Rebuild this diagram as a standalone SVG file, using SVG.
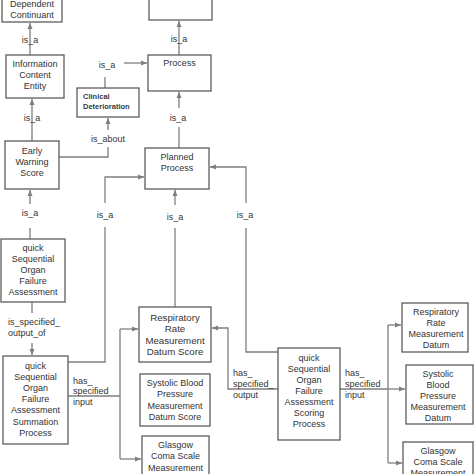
<svg xmlns="http://www.w3.org/2000/svg" width="474" height="474" viewBox="0 0 474 474">
<style>
.box{fill:#fff;stroke:#5c5c5c;stroke-width:1.3}
.t{font-family:"Liberation Sans",Arial,sans-serif;font-size:9px;fill:#333;text-anchor:middle}
.big{font-size:9.7px}
.cd{font-family:"Liberation Sans",Arial,sans-serif;font-size:7.5px;font-weight:bold;fill:#3a3a3a}
.lbl{font-family:"Liberation Sans",Arial,sans-serif;font-size:9px;fill:#333}
.c{text-anchor:middle}
.ln{fill:none;stroke:#7f7f7f;stroke-width:1.3}
.ar{marker-end:url(#ah)}
</style>
<defs>
<marker id="ah" markerUnits="userSpaceOnUse" markerWidth="7" markerHeight="6" refX="6" refY="3" orient="auto">
<path d="M0,0.5 L6,3 L0,5.5 Z" fill="#7f7f7f"/>
</marker>
</defs>
<rect width="474" height="474" fill="#fff"/>
<g id="connectors">
<path class="ln ar" d="M30,55 V23"/>
<path class="ln ar" d="M179,55 V21"/>
<path class="ln ar" d="M32,141 V99"/>
<path class="ln" d="M179,148 V127"/>
<path class="ln ar" d="M179,108 V92"/>
<path class="ln" d="M105,88 V77"/>
<path class="ln ar" d="M124,63 H147"/>
<path class="ln" d="M59,157 H108 V147"/>
<path class="ln ar" d="M108,130 V118"/>
<path class="ln" d="M30,239 V228"/>
<path class="ln ar" d="M30,204 V190"/>
<path class="ln" d="M32,302 V313"/>
<path class="ln ar" d="M32,343 V355"/>
<path class="ln" d="M68,362 H105 V227"/>
<path class="ln ar" d="M105,203 V177 H144"/>
<path class="ln" d="M175,307 V228"/>
<path class="ln ar" d="M175,205 V190"/>
<path class="ln" d="M278,352 H246 V228"/>
<path class="ln ar" d="M246,203 V167 H210"/>
<path class="ln" d="M68,396 H120 M120,329 V459"/>
<path class="ln ar" d="M120,329 H138"/>
<path class="ln ar" d="M120,459 H141"/>
<path class="ln ar" d="M278,389 H228 V328 H212"/>
<path class="ln" d="M340,389 H388 M388,325 V463"/>
<path class="ln ar" d="M388,325 H401"/>
<path class="ln ar" d="M388,389 H405"/>
<path class="ln ar" d="M388,463 H402"/>
<text class="lbl c" x="30" y="43">is_a</text>
<text class="lbl c" x="179" y="42">is_a</text>
<text class="lbl c" x="32" y="121">is_a</text>
<text class="lbl c" x="178" y="121">is_a</text>
<text class="lbl c" x="107" y="68">is_a</text>
<text class="lbl c" x="108" y="142">is_about</text>
<text class="lbl c" x="30" y="216">is_a</text>
<text class="lbl c" x="105" y="218">is_a</text>
<text class="lbl c" x="175" y="220">is_a</text>
<text class="lbl c" x="245" y="218">is_a</text>
<text class="lbl" x="8" y="325">is_specified_</text>
<text class="lbl" x="8" y="336">output_of</text>
<text class="lbl" x="73" y="384">has_</text>
<text class="lbl" x="73" y="394">specified</text>
<text class="lbl" x="73" y="405">input</text>
<text class="lbl" x="233" y="376">has_</text>
<text class="lbl" x="233" y="387">specified_</text>
<text class="lbl" x="233" y="398">output</text>
<text class="lbl" x="345" y="376">has_</text>
<text class="lbl" x="345" y="387">specified</text>
<text class="lbl" x="345" y="398">input</text>
</g>
<g id="dependent-continuant">
<rect class="box" x="2" y="-30" width="60" height="52"/>
<text class="t" x="32" y="7">Dependent</text>
<text class="t" x="32" y="18">Continuant</text>
</g>
<g id="top-box">
<rect class="box" x="149" y="-30" width="63" height="50"/>
</g>
<g id="information-content-entity">
<rect class="box" x="6" y="55" width="58" height="43"/>
<text class="t" x="35" y="67">Information</text>
<text class="t" x="35" y="78">Content</text>
<text class="t" x="35" y="89">Entity</text>
</g>
<g id="clinical-deterioration">
<rect class="box" x="77" y="88" width="62" height="29"/>
<text class="cd" x="83" y="99">Clinical</text>
<text class="cd" x="83" y="109">Deterioration</text>
</g>
<g id="process">
<rect class="box" x="148" y="55" width="63" height="36"/>
<text class="t" x="179.5" y="66">Process</text>
</g>
<g id="early-warning-score">
<rect class="box" x="5" y="141" width="54" height="48"/>
<text class="t" x="32" y="154">Early</text>
<text class="t" x="32" y="165">Warning</text>
<text class="t" x="32" y="176">Score</text>
</g>
<g id="planned-process">
<rect class="box" x="145" y="148" width="64" height="41"/>
<text class="t" x="177" y="160">Planned</text>
<text class="t" x="177" y="171">Process</text>
</g>
<g id="qsofa">
<rect class="box" x="1" y="239" width="64" height="63"/>
<text class="t" x="33" y="251">quick</text>
<text class="t" x="33" y="262">Sequential</text>
<text class="t" x="33" y="273">Organ</text>
<text class="t" x="33" y="284">Failure</text>
<text class="t" x="33" y="295">Assessment</text>
</g>
<g id="qsofa-summation-process">
<rect class="box" x="3" y="356" width="65" height="88"/>
<text class="t" x="35.5" y="368.5">quick</text>
<text class="t" x="35.5" y="379.7">Sequential</text>
<text class="t" x="35.5" y="390.9">Organ</text>
<text class="t" x="35.5" y="402.1">Failure</text>
<text class="t" x="35.5" y="413.3">Assessment</text>
<text class="t" x="35.5" y="424.5">Summation</text>
<text class="t" x="35.5" y="435.7">Process</text>
</g>
<g id="rr-datum-score">
<rect class="box" x="139" y="307" width="72" height="55"/>
<text class="t big" x="175" y="320.5">Respiratory</text>
<text class="t big" x="175" y="332">Rate</text>
<text class="t big" x="175" y="343.5">Measurement</text>
<text class="t big" x="175" y="355">Datum Score</text>
</g>
<g id="sbp-datum-score">
<rect class="box" x="140" y="374" width="70" height="52"/>
<text class="t" x="175" y="385.5">Systolic Blood</text>
<text class="t" x="175" y="397">Pressure</text>
<text class="t" x="175" y="408.5">Measurement</text>
<text class="t" x="175" y="420">Datum Score</text>
</g>
<g id="gcs-datum-score">
<rect class="box" x="142" y="436" width="67" height="50"/>
<text class="t" x="175.5" y="447.5">Glasgow</text>
<text class="t" x="175.5" y="459">Coma Scale</text>
<text class="t" x="175.5" y="470.5">Measurement</text>
</g>
<g id="qsofa-scoring-process">
<rect class="box" x="278" y="348" width="62" height="92"/>
<text class="t" x="309" y="360.5">quick</text>
<text class="t" x="309" y="371.5">Sequential</text>
<text class="t" x="309" y="382.5">Organ</text>
<text class="t" x="309" y="393.5">Failure</text>
<text class="t" x="309" y="404.5">Assessment</text>
<text class="t" x="309" y="415.5">Scoring</text>
<text class="t" x="309" y="426.5">Process</text>
</g>
<g id="rr-datum">
<rect class="box" x="402" y="303" width="66" height="49"/>
<text class="t" x="436" y="314.5">Respiratory</text>
<text class="t" x="436" y="325.5">Rate</text>
<text class="t" x="436" y="337">Measurement</text>
<text class="t" x="436" y="348">Datum</text>
</g>
<g id="sbp-datum">
<rect class="box" x="406" y="365" width="67" height="59"/>
<text class="t" x="438" y="376.5">Systolic</text>
<text class="t" x="438" y="387.5">Blood</text>
<text class="t" x="438" y="399">Pressure</text>
<text class="t" x="438" y="410">Measurement</text>
<text class="t" x="438" y="421">Datum</text>
</g>
<g id="gcs-datum">
<rect class="box" x="403" y="442" width="70" height="50"/>
<text class="t" x="438" y="453.5">Glasgow</text>
<text class="t" x="438" y="464.5">Coma Scale</text>
<text class="t" x="438" y="475.5">Measurement</text>
</g>
</svg>
